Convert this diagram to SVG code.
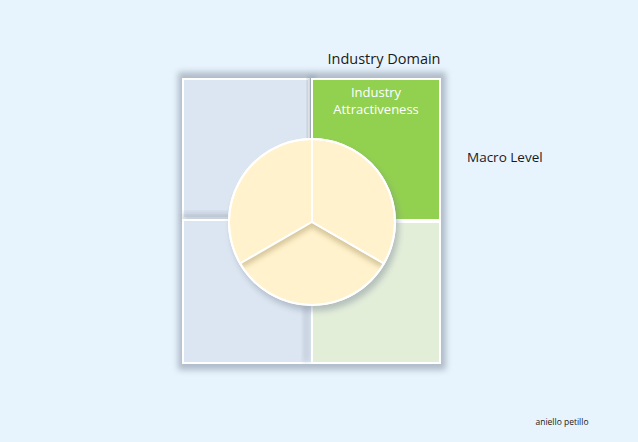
<svg xmlns="http://www.w3.org/2000/svg" width="638" height="442" viewBox="0 0 638 442">
<defs>
<filter id="sh" x="-20%" y="-20%" width="140%" height="140%"><feGaussianBlur stdDeviation="3"/></filter>
<filter id="ish" x="-20%" y="-20%" width="140%" height="140%"><feGaussianBlur stdDeviation="2.5"/></filter>
<clipPath id="cR"><path d="M312,222 L312,139 A83,83 0 0 1 383.9,263.5 Z"/></clipPath>
<clipPath id="cB"><path d="M312,222 L383.9,263.5 A83,83 0 0 1 240.1,263.5 Z"/></clipPath>
</defs>
<style>
.t{font-family:"Open Sans","Liberation Sans",sans-serif;}
.tile{stroke:#ffffff;stroke-width:2;}
.blue{fill:#dce6f2;}
.sec{fill:#fff2cc;stroke:#ffffff;stroke-width:2;stroke-linejoin:round;}
</style>
<rect width="638" height="442" fill="#e8f4fd"/>
<rect x="178" y="72" width="268" height="298" fill="#8a96a6" opacity="0.6" filter="url(#sh)"/>
<g id="tile-tl"><rect class="tile blue" x="183" y="79" width="126" height="139"/>
<rect x="183" y="212" width="126" height="6" fill="#b5c0cd" opacity="0.6" filter="url(#ish)"/></g>
<g id="tile-bl"><rect x="183" y="216" width="128" height="6" fill="#9aa6b6" opacity="0.5" filter="url(#ish)"/>
<rect class="tile blue" x="183" y="220" width="129" height="143"/>
<rect x="303" y="222" width="7" height="140" fill="#b5c0cd" opacity="0.5" filter="url(#ish)"/></g>
<g id="tile-br"><rect class="tile" x="312" y="222" width="128" height="141" fill="#e3eed9"/></g>
<g id="tile-tr"><rect x="308" y="76" width="8" height="144" fill="#8a96a6" opacity="0.5" filter="url(#ish)"/>
<rect class="tile" x="312" y="79" width="128" height="141" fill="#92d050"/>
<text class="t" x="376" y="97" font-size="13" fill="#ffffff" text-anchor="middle">Industry</text>
<text class="t" x="376" y="114" font-size="13" fill="#ffffff" text-anchor="middle">Attractiveness</text></g>
<g id="pie">
<circle cx="315" cy="227" r="84" fill="#7a8696" opacity="0.45" filter="url(#sh)"/>
<path class="sec" d="M312,222 L312,139 A83,83 0 0 0 240.1,263.5 Z"/>
<path class="sec" d="M312,222 L383.9,263.5 A83,83 0 0 1 240.1,263.5 Z"/>
<g clip-path="url(#cB)"><path d="M240.1,263.5 L312,222 L383.9,263.5" fill="none" stroke="#c2b183" stroke-width="10" opacity="0.65" filter="url(#ish)"/></g>
<path class="sec" d="M312,222 L312,139 A83,83 0 0 1 383.9,263.5 Z"/>
<g clip-path="url(#cR)"><path d="M312,139 L312,222" fill="none" stroke="#c2b183" stroke-width="10" opacity="0.65" filter="url(#ish)"/></g>
<path d="M312,222 L312,139 M312,222 L383.9,263.5 M312,222 L240.1,263.5" fill="none" stroke="#ffffff" stroke-width="2"/>
<circle cx="312" cy="222" r="83" fill="none" stroke="#ffffff" stroke-width="2"/>
</g>
<g id="labels">
<text class="t" x="384" y="64" font-size="14.5" fill="#1a1a1a" text-anchor="middle">Industry Domain</text>
<text class="t" x="467" y="162" font-size="13.5" fill="#1a1a1a">Macro Level</text>
<text class="t" x="562" y="425" font-size="8.5" fill="#1a1a1a" text-anchor="middle">aniello petillo</text>
</g>
</svg>
